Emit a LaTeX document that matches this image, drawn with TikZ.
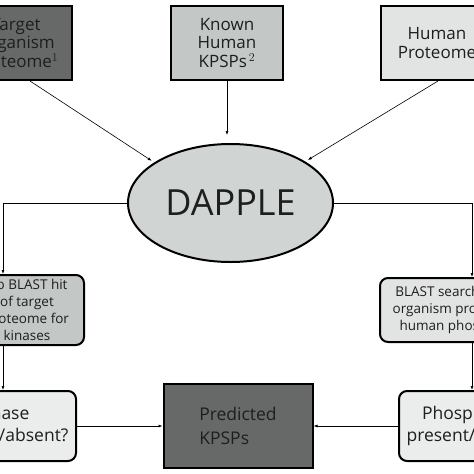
\documentclass[tikz,border=0pt]{standalone}
\usepackage{fontspec}
\setmainfont{Open Sans}
\usetikzlibrary{shapes.geometric, arrows.meta}
\definecolor{darkfill}{HTML}{676969}
\definecolor{midfill}{HTML}{C3C7C6}
\definecolor{lightfill}{HTML}{E2E4E3}
\definecolor{palefill}{HTML}{EBEDEC}
\definecolor{ovalfill}{HTML}{D0D4D3}
\definecolor{ink}{HTML}{1E1E1E}
\begin{document}
\begin{tikzpicture}[x=1pt, y=-1pt,
	main/.style={draw, line width=2pt, align=center, text=ink, inner sep=2pt, font=\fontsize{17}{18.5}\selectfont},
	soft/.style={main, rounded corners=8pt, font=\fontsize{13.5}{17}\selectfont},
	link/.style={line width=0.6pt, -{Latex[length=4pt, width=3pt]}}]
	\useasboundingbox (0,0) rectangle (474,474);
	\clip (0,0) rectangle (474,474);

	\node[main, fill=darkfill, minimum width=112pt, minimum height=74pt] at (16,43) (target) {Target\\Organism\\Proteome$^{\scriptstyle 1}$};
	\node[main, fill=midfill, minimum width=112pt, minimum height=74pt] at (227,43) (known) {Known\\Human\\KPSPs$^{\,\scriptstyle 2}$};
	\node[main, fill=lightfill, minimum width=112pt, minimum height=74pt] at (437,43) (human) {Human\\Proteome};

	\node[main, ellipse, fill=ovalfill, minimum width=205pt, minimum height=118pt, font=\fontsize{36}{40}\selectfont] at (230.5,203) (dapple) {DAPPLE};

	\node[soft, fill=midfill, minimum width=114pt, minimum height=70pt] at (27,310) (noblast) {No BLAST hit\\of target\\proteome for\\kinases};
	\node[soft, fill=lightfill, minimum width=172pt, minimum height=64pt] at (466,310) (blast) {BLAST search of target\\organism proteome for\\human phosphosites};

	\node[main, rounded corners=8pt, fill=palefill, minimum width=147pt, minimum height=70pt, font=\fontsize{17.5}{22}\selectfont] at (2.5,426) (kinase) {Kinase\\present/absent?};
	\node[main, fill=darkfill, minimum width=149pt, minimum height=84pt, align=left, font=\fontsize{17.5}{24}\selectfont] at (238,426) (predicted) {Predicted\\KPSPs};
	\node[main, rounded corners=8pt, fill=palefill, minimum width=147pt, minimum height=70pt, font=\fontsize{17.5}{22}\selectfont] at (472.5,426) (phospho) {Phosphosite\\present/absent?};

	% inputs
	\draw[link, shorten >=3pt] ([xshift=14pt]target.south) -- (dapple.152);
	\draw[link, shorten >=8pt] (known.south) -- (known.south |- dapple.north);
	\draw[link, shorten >=3pt] ([xshift=1pt]human.south) -- (dapple.29);

	% branches
	\draw[link] (dapple.west) -| ([xshift=-24pt]noblast.north);
	\draw[link] ([xshift=-24pt]noblast.south) -- ([xshift=-24pt]noblast.south |- kinase.north);
	\draw[link] (dapple.east) -| ([xshift=6pt]blast.north);
	\draw[link] ([xshift=6pt]blast.south) -- ([xshift=6pt]blast.south |- phospho.north);

	\draw[link] (kinase.east) -- (predicted.west);
	\draw[link] (phospho.west) -- (predicted.east);
\end{tikzpicture}
\end{document}
